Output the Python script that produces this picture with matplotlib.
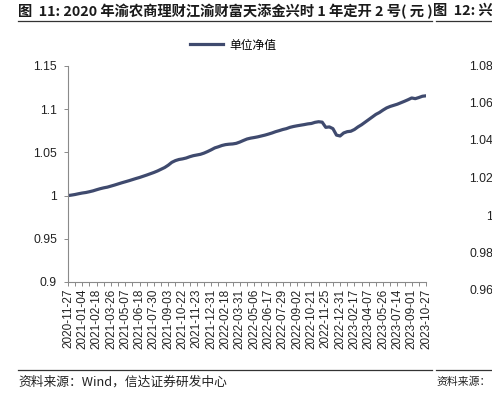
import matplotlib
matplotlib.use('Agg')
import matplotlib.pyplot as plt
from matplotlib.lines import Line2D

plt.rcParams['font.family'] = ['Noto Sans CJK SC', 'DejaVu Sans']

# 单位净值 (evenly spaced points)
nav = [1.0000, 1.0006, 1.0013, 1.0022, 1.0030, 1.0036, 1.0045, 1.0055, 1.0068, 1.0080,
       1.0090, 1.0098, 1.0110, 1.0122, 1.0135, 1.0148, 1.0160, 1.0172, 1.0185, 1.0198,
       1.0210, 1.0224, 1.0238, 1.0253, 1.0268, 1.0285, 1.0305, 1.0325, 1.0352, 1.0385,
       1.0405, 1.0418, 1.0425, 1.0435, 1.0450, 1.0462, 1.0470, 1.0478, 1.0492, 1.0510,
       1.0530, 1.0552, 1.0565, 1.0580, 1.0590, 1.0595, 1.0598, 1.0605, 1.0620, 1.0638,
       1.0655, 1.0665, 1.0672, 1.0680, 1.0690, 1.0700, 1.0712, 1.0725, 1.0740, 1.0752,
       1.0765, 1.0775, 1.0790, 1.0800, 1.0808, 1.0815, 1.0822, 1.0830, 1.0835, 1.0848,
       1.0855, 1.0850, 1.0790, 1.0795, 1.0775, 1.0700, 1.0690, 1.0725, 1.0740, 1.0745,
       1.0765, 1.0795, 1.0820, 1.0850, 1.0880, 1.0910, 1.0940, 1.0962, 1.0990, 1.1015,
       1.1032, 1.1045, 1.1058, 1.1075, 1.1092, 1.1110, 1.1130, 1.1122, 1.1135, 1.1150,
       1.1155]

date_labels = ['2020-11-27', '2021-01-04', '2021-02-18', '2021-03-26', '2021-05-07',
               '2021-06-18', '2021-07-30', '2021-09-03', '2021-10-22', '2021-11-23',
               '2021-12-31', '2022-02-18', '2022-03-31', '2022-05-06', '2022-06-17',
               '2022-07-29', '2022-09-02', '2022-10-21', '2022-11-25', '2022-12-31',
               '2023-02-17', '2023-04-07', '2023-05-26', '2023-07-14', '2023-09-01',
               '2023-10-27']
yticks = [0.9, 0.95, 1.0, 1.05, 1.1, 1.15]
ytick_labels = ['0.9', '0.95', '1', '1.05', '1.1', '1.15']

# second chart on the right, only its y labels are visible
yticks2 = [0.96, 0.98, 1.0, 1.02, 1.04, 1.06, 1.08]
ytick_labels2 = ['0.96', '0.98', '1', '1.02', '1.04', '1.06', '1.08']

W, H = 492, 395
line_color = '#3f4a6e'
spine_color = '#8a8a8a'

fig = plt.figure(figsize=(W/100, H/100), dpi=100)

ax = fig.add_axes([68/W, 1-282/H, (426-68)/W, (282-66)/H])
x = list(range(len(nav)))
ax.plot(x, nav, color=line_color, lw=2.3, solid_capstyle='round', label='单位净值')
ax.set_xlim(0, len(nav)-1)
ax.set_ylim(0.9, 1.15)
step = (len(nav)-1)//(len(date_labels)-1)
ax.set_xticks(list(range(0, len(nav), step)))
ax.set_xticklabels(date_labels, rotation=90, fontsize=8.5, family=['Liberation Sans'], color='#222222')
ax.set_xticks(list(range(step//2, len(nav), step)), minor=True)
ax.set_yticks(yticks)
ax.set_yticklabels(ytick_labels, fontsize=8.8, family=['Liberation Sans'], color='#222222')
for s in ['top', 'right']:
    ax.spines[s].set_visible(False)
for s in ['left', 'bottom']:
    ax.spines[s].set_color(spine_color)
    ax.spines[s].set_linewidth(0.8)
ax.tick_params(axis='both', which='both', direction='out', length=3, width=0.7, color=spine_color)
ax.tick_params(axis='y', pad=5)
ax.tick_params(axis='x', pad=2)

fig.legend(handles=[Line2D([0], [0], color=line_color, lw=2.3)], labels=['单位净值'],
           loc='center', bbox_to_anchor=(233/W, 1-45/H), frameon=False, fontsize=8.5,
           handlelength=2.8, handletextpad=0.5)

ax2 = fig.add_axes([504/W, 1-290/H, 0.2, (290-65)/H])
ax2.set_ylim(0.96, 1.08)
ax2.set_yticks(yticks2)
ax2.set_yticklabels(ytick_labels2, fontsize=8.8, family=['Liberation Sans'], color='#222222')
ax2.set_xticks([])
for s in ax2.spines.values():
    s.set_visible(False)
ax2.tick_params(axis='y', length=3, pad=5, color=spine_color)

# titles, rules and sources
fig.text(18/W, 1-11/H, '图  11: 2020 年渝农商理财江渝财富天添金兴时 1 年定开 2 号( 元 )',
         fontsize=10.3, fontweight='bold', va='center', ha='left', color='#1a1a1a')
fig.text(433/W, 1-11/H, '图  12: 兴', fontsize=10.3, fontweight='bold', va='center', ha='left', color='#1a1a1a')
fig.add_artist(Line2D([18/W, 432/W], [1-21/H]*2, color='#333333', lw=0.9))
fig.add_artist(Line2D([436/W, 1], [1-21/H]*2, color='#333333', lw=0.9))
fig.add_artist(Line2D([18/W, 432/W], [1-370/H]*2, color='#333333', lw=0.9))
fig.add_artist(Line2D([436/W, 1], [1-370/H]*2, color='#333333', lw=0.9))
fig.text(18/W, 1-382/H, '资料来源：Wind，信达证券研发中心', fontsize=9.2, style='italic',
         va='center', ha='left', color='#222222')
fig.text(436/W, 1-382/H, '资料来源：', fontsize=7.8, style='italic', va='center', ha='left', color='#222222')

fig.savefig('out.png', dpi=100)
